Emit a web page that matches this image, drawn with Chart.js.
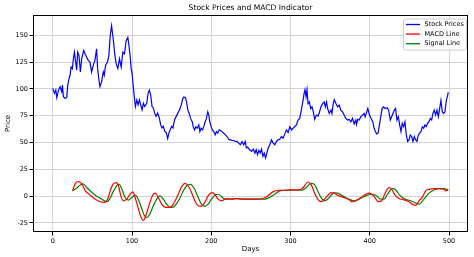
<!DOCTYPE html>
<html>
<head>
<meta charset="utf-8">
<script src="https://cdn.jsdelivr.net/npm/chart.js@4"></script>
<style>html,body{margin:0;padding:0;background:#fff}</style>
</head>
<body>
<canvas id="macdChart" width="474" height="257"></canvas>
<script>
// values
const priceDays = [0,2.1,3.8,5.1,7.2,9.3,11.3,12.2,13.4,15.5,17.6,18.9,20.6,21.8,23.1,24.7,26,27.3,28.9,30.2,31.4,33.1,34.8,36.5,39,40.7,42.8,44.8,46.9,49,51.1,53.2,55.3,56.6,58.3,59.5,61.6,63.7,65,66.6,69.1,70.8,72.5,74.2,76.3,78.4,80,82.1,84.2,86.3,88.4,90.5,92.6,94.7,95.9,97.6,98.9,100.1,101.8,103.1,104.3,106,107.7,109.3,111,112.7,114.4,116,118.6,120.3,121.9,123.6,125.3,127,128.6,130.3,132.4,134.5,136.1,137.8,139.5,141.2,143.3,145,146.6,148.3,150,151.7,153.7,155.8,157.9,160,162.1,164.2,165.5,167.5,168.8,170.5,172.2,173.8,176,177.2,178.9,180.5,182.2,184.3,185.6,187.2,188.9,190.6,192.3,193.9,195.6,196.9,198.1,199.8,201.5,203.2,204.9,206.5,208.2,209.9,211.6,213.6,215.7,217.8,219.9,222,224.1,226.2,228.3,230.4,232.5,234.6,236.7,238.8,240.9,243,244.2,245.9,248.4,250.9,253,255.1,256.7,258.4,260.1,261.8,263.5,265.1,266.8,268.5,270.1,271.8,273.9,276,278.1,280.2,282.3,284.4,286.5,288.6,290.7,292.8,294.9,297,299.1,301.2,303.2,305.3,307.4,309.5,311.6,313.7,315.8,317.1,318.3,319.6,320.8,322.1,323.8,325.5,327.1,328.8,330.5,332.6,334.7,336.4,338.4,340.5,342.6,343.9,345.5,346.8,348.9,351,352.3,353.9,355.2,357.3,359.4,361.4,363.5,365.6,367.7,369.8,371.9,374,376.1,378.2,380.3,382.4,383.2,384.9,386.6,388.7,390.8,392.9,394.1,395.8,397.5,399.6,401.7,403.8,405.5,407.1,408.8,410.5,412.2,413.9,415.5,417.2,419.7,422,423.8,425.9,427.6,429.3,431,432.6,434.3,436,437.7,439.4,441,442.7,444.4,446.1,447.8,449.5,451.1,452.8,454.5,456.2,457.9,459.6,461.2,462.9,464.6,466.3,468,469.6,471.3,473,474.7,476.4,478.1,479.7,481.4,483.1,484.8,486.5,488.2,489.8,491.5,493.2,494.9,496.6,498.3,499];
const prices = [100.5,95.9,98.9,91.9,98.9,102,97.4,103.5,92.8,91.2,91.9,103.5,109.7,112.7,120.4,118.9,128.1,134.3,125,117.4,134.3,131.2,115.8,128.1,135.8,132.7,129.6,126.6,125,115.8,122,126.6,137.3,118.9,108.1,102,106.6,115.8,112.7,122,125,131.2,149.6,158.8,146.5,131.2,123.5,118.9,128.1,120.4,134.3,132.7,145,148,141.9,131.2,118.9,114.3,100.5,91.2,83.6,89.7,85.1,89.7,85.1,80.5,86.6,83.6,86.6,95.9,98.9,94.3,83.6,82,77.4,74.4,77.4,72.8,66.7,63.6,65.1,60.5,59,53.7,59,62.1,65.1,63.6,71.3,74.4,77.4,80.5,85.1,91.2,92.5,91.8,87.9,80.2,77.1,72.5,69.4,64.8,61.8,64.8,63.3,66.4,60.2,63.3,61.8,64.8,69.4,72.5,78.6,75.6,69.4,64.8,61.8,60.2,57.1,60.2,58.7,61.8,61.2,60.2,58.7,57.1,55.6,53.1,52.5,51.9,51.9,51,51,49.5,47.9,51,47.9,51,44.9,45.8,43.3,41.8,43.9,40.2,43.3,38.7,42.7,40.2,43.9,37.1,40.2,35.6,40.2,44.9,47.9,52.5,49.5,47.9,51,52.5,53.1,55.6,54.1,58.1,61.8,59.3,64.8,61.8,63.3,64.8,66.4,71,72.5,80.2,89.4,95.5,99.2,92.5,99.2,86.3,87.9,81.7,83.3,78.6,71.6,75.6,74.7,78,83.3,86.3,87.9,83.3,87.9,81.7,77.1,80.2,77.1,86.3,90,86.3,83.3,84.8,80.2,78.6,75.6,72.5,71,71.6,69.4,72.5,67.3,71,66.9,71.6,71,74.1,75.6,77.1,74.1,77.7,81.7,75.6,72.5,69.4,63.3,60.2,58.1,58.7,66.4,74.1,81.7,83.3,81.7,82.5,80.2,71,74.1,77.1,80.2,81.7,71,74.1,66.4,60.2,67.9,64.8,69.4,57.1,51,52.5,57.1,55.6,51,55.6,52.5,51,57.1,58.7,60.2,64.8,63.3,66.4,64.8,67.9,69.4,72.5,71,77.1,80.2,75.6,80.2,74.1,81.7,89.3,78.6,77.1,78.6,89.3,94,97];

const macdDays = [25,28.5,32.7,36.9,41.1,47.4,53.7,60,65,69.2,72.5,75.9,80,83,85.9,89.2,93.4,97.6,101,103.9,108.1,111.4,114.4,117.7,121.9,126.1,129,133.2,137.4,142.8,147.9,152.1,158.4,162,166.7,171,175.1,179.3,183.5,187.6,191.8,196,201,204.4,208.6,212.8,219,225.3,231.6,240,248.4,256.8,265.2,271.4,277.7,284,290.3,298.7,307.1,313.4,317.6,321.7,325.9,330.1,334.3,338.5,344.8,351.1,355.2,359.4,367.7,374,378.2,382.4,388.7,395,400,405.5,410.9,415.1,419.3,424.4,427.7,431.9,436.9,443.2,449.5,455.8,458.7,462.1,466.3,470.5,474.7,481,487.3,493.6,495.7,499];
const macdLine = [4.9,12,13.5,11,5,0.9,-2.8,-5.2,-5.8,-2.8,4.9,11,12.6,9.5,0.3,-4.3,-2.8,1.8,4,-1.2,-12,-19.7,-22.7,-17.5,-7.4,0.9,2.8,-1.2,-7.4,-10.5,-10.5,-7.4,1.8,8,12,9.5,3.4,-4.3,-8.9,-9.5,-5.8,0.3,3.4,1.8,-2.8,-4.3,-2.2,-2.8,-2.2,-2.8,-2.8,-2.8,-2.2,0.3,4,5.5,5.5,5.8,5.8,6.4,9.5,13.2,11,3.4,-2.8,-5.2,-1.2,3.4,2.8,0.8,-1.2,-3.4,-5.2,-4.3,-1.2,1.8,2.8,-0.3,-5.2,-4.3,2.8,7.9,6.4,0.9,-2.2,-3.4,-5.2,-8.3,-8.3,-4.3,-1.2,4.9,6.4,7,7,6.4,4.9,5.5];

const signalDays = [25,30.6,34.8,38.2,43.2,49.5,55.8,62.1,68.3,71.7,76.7,81.7,84.2,87.2,91.3,95.5,99.7,103.9,106.8,111,115.2,118.6,121.9,126.9,131.2,135.3,139.5,144.5,150,154.2,160.4,164.6,168.8,173.8,178,183.5,187.6,191.8,196,200.2,204.4,208.6,212.8,216.9,223.2,231.6,244.2,256.8,267.3,273.6,279.9,286.2,294.5,305,313.4,319.7,325.9,330.1,334.3,338.5,342.7,346.9,351.1,355.2,359.4,365.6,371.9,380.3,386.6,392.9,401.3,407.6,413.9,418.1,422.3,428.6,432.8,437.8,443.2,451.6,458.7,462.1,468.4,474.7,481,487.3,493.6,499];
const signalLine = [4.9,7.9,10.5,11.5,7.9,3.4,-0.3,-2.8,-5.2,-2.8,4.9,10.4,11,6.4,-1.2,-3.7,-1.2,0.9,-1.2,-8.9,-17.5,-20,-17.5,-8.9,-2.8,0.3,-2.8,-8.3,-10.5,-8.9,-2,4.9,9.5,11,7.9,-1.2,-7.4,-9.5,-7.4,-2.8,0.9,1.8,-0.3,-2.8,-2.8,-2.2,-2.8,-2.8,-2.8,-1.2,1.8,4.9,5.5,5.5,5.5,7.9,12,11,4.9,-1.2,-4.3,-2.8,0.9,3,2.8,0.3,-2.2,-4.3,-2.8,-0.3,1.8,0.9,-2.8,-2.8,1.8,7,5.8,0.9,-2.2,-4.3,-6.5,-7.4,-2.8,2.8,5.8,7,7,5.8];

const xTicks = [0, 100, 200, 300, 400, 500];
const yTicks = [-25, 0, 25, 50, 75, 100, 125, 150];

const chartTitle = 'Stock Prices and MACD Indicator';
const seriesNames = ['Stock Prices', 'MACD Line', 'Signal Line'];
const seriesColors = ['#0000ff', '#ff0000', '#008000'];

Chart.defaults.font.family = '"DejaVu Sans", sans-serif';
Chart.defaults.color = '#000';

function pairs(xs, ys) {
    return xs.map((x, i) => ({ x: x, y: ys[i] }));
}

// spines all round, plus the title centred over the plot area (matplotlib style)
const frame = {
    id: 'frame',
    afterDatasetsDraw(chart) {
        const a = chart.chartArea;
        const ctx = chart.ctx;
        ctx.save();
        ctx.strokeStyle = '#000';
        ctx.lineWidth = 1;
        ctx.strokeRect(a.left + 0.5, a.top + 0.5, a.right - a.left - 1, a.bottom - a.top - 1);
        ctx.fillStyle = '#000';
        ctx.font = '7.6px "DejaVu Sans"';
        ctx.textAlign = 'center';
        ctx.textBaseline = 'middle';
        ctx.fillText(chartTitle, (a.left + a.right) / 2, 8);
        ctx.restore();
    }
};

// legend box inside the upper right corner
const cornerLegend = {
    id: 'cornerLegend',
    afterDraw(chart) {
        const a = chart.chartArea;
        const ctx = chart.ctx;
        const w = 63, h = 31;
        const x0 = a.right - 2 - w, y0 = a.top + 3.5;
        ctx.save();
        ctx.fillStyle = 'rgba(255,255,255,0.85)';
        ctx.strokeStyle = '#cccccc';
        ctx.lineWidth = 1;
        ctx.beginPath();
        ctx.roundRect(x0 + 0.5, y0 + 0.5, w, h, 2);
        ctx.fill();
        ctx.stroke();
        ctx.font = '6.5px "DejaVu Sans"';
        ctx.textBaseline = 'middle';
        seriesNames.forEach((name, i) => {
            const y = y0 + 6 + i * 9.6;
            ctx.strokeStyle = seriesColors[i];
            ctx.lineWidth = 1.3;
            ctx.beginPath();
            ctx.moveTo(x0 + 3, y);
            ctx.lineTo(x0 + 17, y);
            ctx.stroke();
            ctx.fillStyle = '#000';
            ctx.fillText(name, x0 + 21.5, y);
        });
        ctx.restore();
    }
};

const ctx = document.getElementById('macdChart').getContext('2d');
const myChart = new Chart(ctx, {
    type: 'line',
    data: {
        datasets: [{
            label: seriesNames[0],
            data: pairs(priceDays, prices),
            borderColor: seriesColors[0],
            borderWidth: 1.2,
            pointRadius: 0,
            tension: 0
        }, {
            label: seriesNames[1],
            data: pairs(macdDays, macdLine),
            borderColor: seriesColors[1],
            borderWidth: 1.2,
            pointRadius: 0,
            cubicInterpolationMode: 'monotone'
        }, {
            label: seriesNames[2],
            data: pairs(signalDays, signalLine),
            borderColor: seriesColors[2],
            borderWidth: 1.2,
            pointRadius: 0,
            cubicInterpolationMode: 'monotone'
        }]
    },
    options: {
        responsive: false,
        animation: false,
        layout: { padding: { top: 15, right: 6 } },
        plugins: {
            legend: { display: false },
            tooltip: { enabled: false },
            title: { display: false }
        },
        scales: {
            x: {
                type: 'linear',
                min: -24.95,
                max: 523.95,
                afterBuildTicks: axis => { axis.ticks = xTicks.map(v => ({ value: v })); },
                afterFit: axis => { axis.height = 25; },
                grid: { color: '#d3d3d3', lineWidth: 1, tickLength: 3.5, tickColor: '#000' },
                border: { display: false },
                ticks: { color: '#000', font: { size: 6.5 }, padding: 1.5, maxRotation: 0 },
                title: { display: true, text: 'Days', color: '#000', font: { size: 7 }, padding: { bottom: 4 } }
            },
            y: {
                type: 'linear',
                min: -33.4,
                max: 168.9,
                afterBuildTicks: axis => { axis.ticks = yTicks.map(v => ({ value: v })); },
                afterFit: axis => { axis.width = 33; },
                grid: { color: '#d3d3d3', lineWidth: 1, tickLength: 3.5, tickColor: '#000' },
                border: { display: false },
                ticks: { color: '#000', font: { size: 6.5 }, padding: 1.5 },
                title: { display: true, text: 'Price', color: '#000', font: { size: 7 }, padding: { top: 4 } }
            }
        }
    },
    plugins: [frame, cornerLegend]
});
</script>
</body>
</html>
